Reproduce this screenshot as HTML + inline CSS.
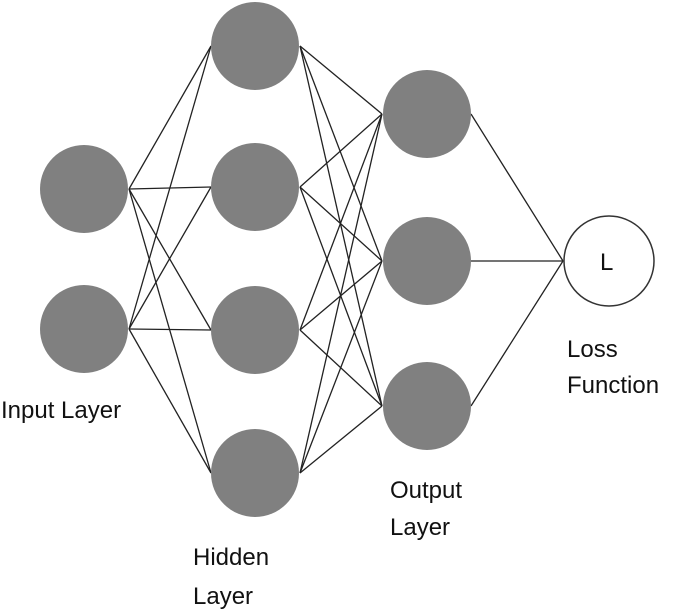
<!DOCTYPE html>
<html><head><style>
html,body{margin:0;padding:0;background:#fff;}
svg{display:block;}
text{font-family:"Liberation Sans",sans-serif;font-size:24px;fill:#111;}
</style></head><body>
<svg width="685" height="615" viewBox="0 0 685 615" xmlns="http://www.w3.org/2000/svg">
<g stroke="#222" stroke-width="1.3" fill="none">
<!-- input -> hidden -->
<line x1="129" y1="189" x2="211" y2="46"/><line x1="129" y1="189" x2="211" y2="187"/><line x1="129" y1="189" x2="211" y2="330"/><line x1="129" y1="189" x2="211" y2="473"/>
<line x1="129" y1="329" x2="211" y2="46"/><line x1="129" y1="329" x2="211" y2="187"/><line x1="129" y1="329" x2="211" y2="330"/><line x1="129" y1="329" x2="211" y2="473"/>
<!-- hidden -> output -->
<line x1="300" y1="46" x2="382" y2="114"/><line x1="300" y1="46" x2="382" y2="261"/><line x1="300" y1="46" x2="382" y2="406"/>
<line x1="300" y1="187" x2="382" y2="114"/><line x1="300" y1="187" x2="382" y2="261"/><line x1="300" y1="187" x2="382" y2="406"/>
<line x1="300" y1="330" x2="382" y2="114"/><line x1="300" y1="330" x2="382" y2="261"/><line x1="300" y1="330" x2="382" y2="406"/>
<line x1="300" y1="473" x2="382" y2="114"/><line x1="300" y1="473" x2="382" y2="261"/><line x1="300" y1="473" x2="382" y2="406"/>
<!-- output -> L -->
<line x1="471" y1="114" x2="563" y2="261"/><line x1="471" y1="261" x2="563" y2="261"/><line x1="471" y1="406" x2="563" y2="261"/>
</g>
<g fill="#808080">
<circle cx="84" cy="189" r="44"/><circle cx="84" cy="329" r="44"/>
<circle cx="255" cy="46" r="44"/><circle cx="255" cy="187" r="44"/><circle cx="255" cy="330" r="44"/><circle cx="255" cy="473" r="44"/>
<circle cx="427" cy="114" r="44"/><circle cx="427" cy="261" r="44"/><circle cx="427" cy="406" r="44"/>
</g>
<circle cx="609" cy="261" r="45" fill="#fff" stroke="#333" stroke-width="1.5"/>
<text x="600" y="270">L</text>
<text x="1" y="418">Input Layer</text>
<text x="193" y="565">Hidden</text>
<text x="193" y="604">Layer</text>
<text x="390" y="498">Output</text>
<text x="390" y="535">Layer</text>
<text x="567" y="357">Loss</text>
<text x="567" y="393">Function</text>
</svg>
</body></html>
